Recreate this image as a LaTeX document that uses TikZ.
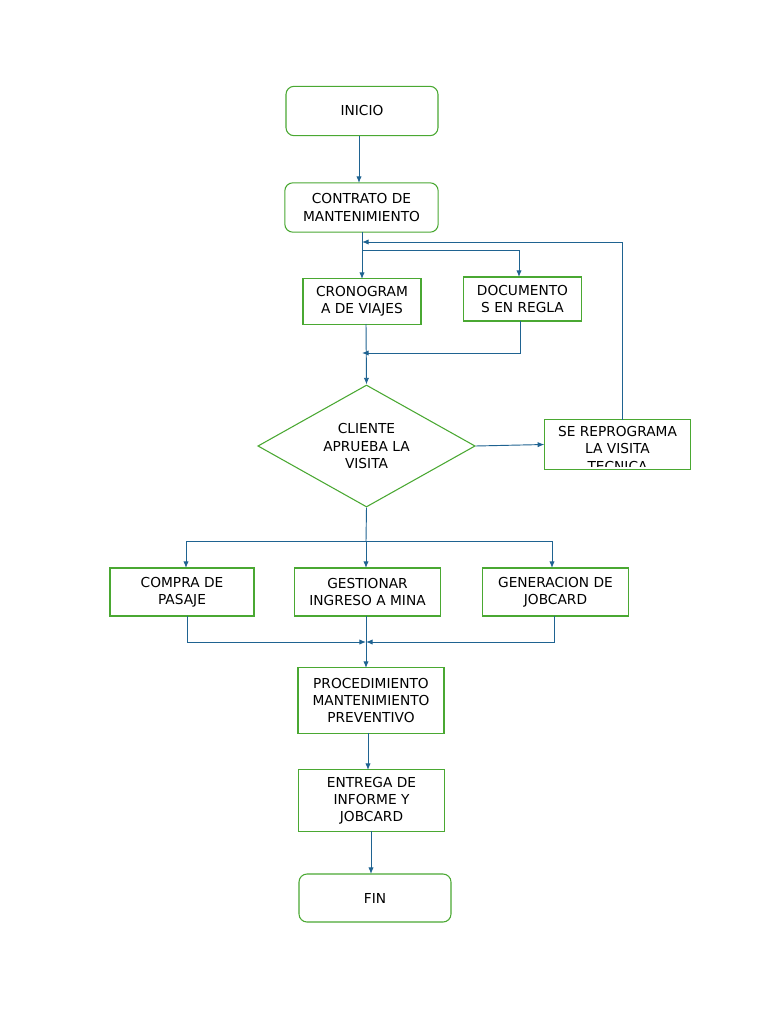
\documentclass[tikz,border=0pt]{standalone}
\usepackage{fontspec}
\setmainfont{DejaVu Sans}
\usetikzlibrary{shapes.geometric,arrows.meta}
\definecolor{gr}{HTML}{4AA832}
\definecolor{bl}{HTML}{1F6391}
\begin{document}
\begin{tikzpicture}[x=0.75pt,y=-0.75pt,
  box/.style={draw=gr,line width=0.8pt,align=center,font=\fontsize{10.3}{12.8}\selectfont,inner sep=0pt},
  rbox/.style={box,rounded corners=6pt},
  ar/.style={draw=bl,line width=0.7pt,-{Latex[length=5pt,width=4pt]}},
  ln/.style={draw=bl,line width=0.7pt}]
\useasboundingbox (0,0) rectangle (768,1024);
\node[rbox,minimum width=114pt,minimum height=37pt] (ini) at (362,111) {INICIO};
\node[rbox,minimum width=115pt,minimum height=37pt] (con) at (361.5,207.5) {CONTRATO DE\\MANTENIMIENTO};
\node[box,minimum width=88.5pt,minimum height=34pt] (cro) at (362,301.5) {CRONOGRAM\\A DE VIAJES};
\node[box,minimum width=88pt,minimum height=33pt] (doc) at (522.5,299) {DOCUMENTO\\S EN REGLA};
\node[box,diamond,aspect=1.78,minimum width=163pt,minimum height=91.5pt] (dia) at (366.5,446) {CLIENTE\\APRUEBA LA\\VISITA};
\node[box,minimum width=109pt,minimum height=37pt] (rep) at (617.5,444.5) {};
\begin{scope}
\clip (546,421) rectangle (689,466);
\node[align=center,font=\fontsize{10.3}{12.8}\selectfont,anchor=north] at (617.5,422) {SE REPROGRAMA\\LA VISITA\\TECNICA};
\end{scope}
\node[box,minimum width=108pt,minimum height=36pt] (com) at (182,592) {COMPRA DE\\PASAJE};
\node[box,minimum width=109pt,minimum height=36pt] (ges) at (367.5,592) {GESTIONAR\\INGRESO A MINA};
\node[box,minimum width=109pt,minimum height=36pt] (gen) at (555.5,592) {GENERACION DE\\JOBCARD};
\node[box,minimum width=109.5pt,minimum height=49pt] (pro) at (371,700.5) {PROCEDIMIENTO\\MANTENIMIENTO\\PREVENTIVO};
\node[box,minimum width=109pt,minimum height=46pt] (ent) at (371.5,800.5) {ENTREGA DE\\INFORME Y\\JOBCARD};
\node[rbox,minimum width=114pt,minimum height=36pt] (fin) at (375,898) {FIN};
\coordinate (a1) at (362,250);
\coordinate (a2) at (362,353);
\coordinate (a3) at (366,541);
\coordinate (a4) at (366,642);
\draw[ar] (359,136) -- (359,183);
\draw[ar] (362,232) -- (362,279);
\draw[ar] (a1) -- (519,250) -- (519,277);
\draw[ar] (622,420) -- (622,242) -- (362,242);
\draw[ar] (366,324) -- (dia.north);
\draw[ar] (520,321) -- (520,353) -- (a2);
\draw[ar] (dia.east) -- (rep.west);
\draw[ln] (dia.south) -- (a3);
\draw[ar] (a3) -- (186,541) -- (186,568);
\draw[ar] (a3) -- (552,541) -- (552,568);
\draw[ar] (a3) -- (366,568);
\draw[ar] (187,616) -- (187,642) -- (a4);
\draw[ar] (554,616) -- (554,642) -- (a4);
\draw[ar] (366,616) -- (366,668);
\draw[ar] (368,733) -- (368,770);
\draw[ar] (371,831) -- (371,874);
\end{tikzpicture}
\end{document}
